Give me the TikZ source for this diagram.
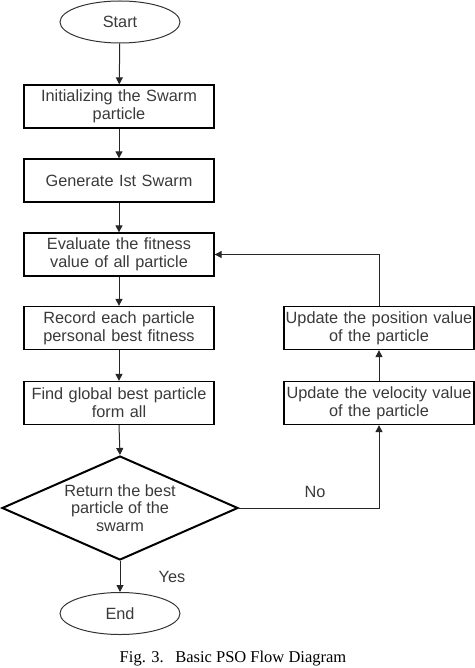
\documentclass[tikz,border=0pt]{standalone}
\usepackage{fontspec}
\setmainfont{Liberation Sans}
\newfontfamily\capfont{Liberation Serif}
\usetikzlibrary{shapes.geometric,arrows.meta}
\definecolor{txt}{HTML}{3A3A3A}
\begin{document}
\begin{tikzpicture}[x=1pt,y=-1pt,
  every node/.style={font=\fontsize{16.3}{17.7}\selectfont, text=txt},
  procbox/.style={draw=black, line width=1.3pt, rectangle, minimum width=190pt, minimum height=43pt, inner sep=0pt, text width=186pt, align=center},
  termnode/.style={draw=black!80, line width=1pt, ellipse, minimum width=120pt, minimum height=42pt, inner sep=0pt},
  decnode/.style={draw=black, line width=2pt, diamond, aspect=2.27, minimum width=236pt, minimum height=104pt, inner sep=0pt, align=center},
  conn/.style={draw=black!85, line width=1pt, -{Triangle[length=7pt,width=7pt]}},
  lbl/.style={inner sep=0pt}
]
\useasboundingbox (0,0) rectangle (474,668);
\node[termnode] (start) at (120,22) {Start};
\node[procbox] (init) at (119,106.5) {Initializing the Swarm\\particle};
\node[procbox] (gen) at (119,180.5) {Generate Ist Swarm};
\node[procbox] (eval) at (119,254.5) {Evaluate the fitness\\value of all particle};
\node[procbox] (rec) at (119,328) {Record each particle\\personal best fitness};
\node[procbox] (find) at (119,403) {Find global best particle\\form all};
\node[decnode] (dec) at (120,508) {Return the best\\particle of the\\swarm};
\node[termnode] (end) at (120,613.5) {End};
\node[procbox, minimum width=188pt, text width=190pt] (pos) at (379,328) {Update the position value\\of the particle};
\node[procbox, minimum width=188pt, text width=190pt] (vel) at (379,403) {Update the velocity value\\of the particle};
\draw[conn] (start) -- (init);
\draw[conn] (init) -- (gen);
\draw[conn] (gen) -- (eval);
\draw[conn] (eval) -- (rec);
\draw[conn] (rec) -- (find);
\draw[conn] (find.south) -- (dec.north);
\draw[conn] (dec.south) -- (end.north);
\draw[conn] (dec.east) -| (vel.south);
\draw[conn] (vel) -- (pos);
\draw[conn] (pos.north) |- (eval.east);
\node[lbl] (no) at (315,492) {No};
\node[lbl] (yes) at (172,577) {Yes};
\node[lbl, font=\capfont\fontsize{16.5}{18}\selectfont, text=black] (cap) at (233,659) {Fig. 3.\hspace{0.7em}Basic PSO Flow Diagram};
\end{tikzpicture}
\end{document}
